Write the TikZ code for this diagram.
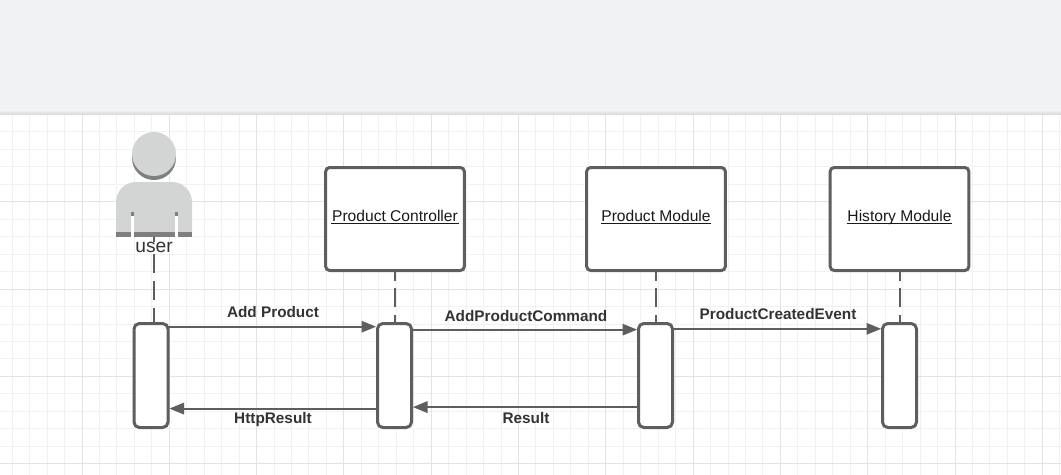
\documentclass[tikz,border=0pt]{standalone}
\usepackage{fontspec}
\setmainfont{Liberation Sans}
\usetikzlibrary{arrows.meta,positioning,calc}
\definecolor{linegray}{HTML}{5E5E5E}
\definecolor{textgray}{HTML}{333333}
\definecolor{bandgray}{HTML}{F1F2F4}
\definecolor{edgegray}{HTML}{D8D9DB}
\definecolor{gridminor}{HTML}{F1F1F1}
\definecolor{gridmajor}{HTML}{E3E3E3}
\definecolor{personfill}{HTML}{D3D5D5}
\definecolor{personshade}{HTML}{7F7F7F}
\newcommand{\ulabel}[1]{\setbox0\hbox{#1}\rlap{\kern-0.5pt\rule[-1.7pt]{\dimexpr\wd0+1pt\relax}{1pt}}\box0}
\tikzset{
    module/.style={draw=linegray, line width=2.25pt, fill=white, rounded corners=3pt, minimum width=104pt, minimum height=77.25pt, inner sep=0pt, outer sep=0pt, text height=8pt, text depth=4pt, font=\fontsize{11.7pt}{14pt}\selectfont, text=black!90},
    bar/.style={draw=linegray, line width=2.25pt, fill=white, rounded corners=4pt, minimum width=25.5pt, minimum height=78pt, inner sep=0pt, outer sep=0pt},
    lifeline/.style={draw=linegray, line width=1.5pt, dash pattern=on 14.6pt off 5.6pt, dash phase=7.1pt},
    message/.style={draw=linegray, line width=1.5pt, -{Triangle[length=11pt,width=8.5pt]}, shorten >=1pt},
    msglabel/.style={font=\fontsize{11.5pt}{14pt}\selectfont\bfseries, text=textgray, inner sep=0pt},
    gridline/.style={line width=0.9pt}
}
\begin{document}
\begin{tikzpicture}[x=0.75pt,y=-0.75pt]
    \useasboundingbox (0,0) rectangle (1061,475);

    % Grid
    \foreach \i in {0,...,61} {
        \pgfmathsetmacro\gridx{round(-5.8+17.46*\i)+0.5}
        \draw[gridline, gridminor] (\gridx,114) -- (\gridx,475);
    }
    \foreach \j in {0,...,20} {
        \pgfmathsetmacro\gridy{round(114+17.46*\j)+0.5}
        \draw[gridline, gridminor] (0,\gridy) -- (1061,\gridy);
    }
    \foreach \i in {0,...,12} {
        \pgfmathsetmacro\gridx{round(-5.8+87.3*\i)+0.5}
        \draw[gridline, gridmajor] (\gridx,114) -- (\gridx,475);
    }
    \foreach \j in {1,...,4} {
        \pgfmathsetmacro\gridy{round(114+87.3*\j)+0.5}
        \draw[gridline, gridmajor] (0,\gridy) -- (1061,\gridy);
    }

    % Top band
    \fill[bandgray] (0,0) rectangle (1061,110);
    \shade[top color=bandgray, bottom color=edgegray] (0,109.5) rectangle (1061,114.5);

    % Person
    \fill[personshade] (154,158) circle [radius=16.5pt];
    \fill[personfill] (154,154) circle [radius=16.5pt];
    \fill[personfill] (116,233) [rounded corners=15pt] -- (116,182) -- (192,182) [sharp corners] -- (192,233) -- cycle;
    \fill[personshade] (116,232) rectangle (192,236.5);
    \fill[white] (131.3,212) rectangle (133.7,236.5);
    \fill[white] (175,212) rectangle (177.5,236.5);
    \fill[personshade] (131.3,212) rectangle (133.7,216);
    \fill[personshade] (175,212) rectangle (177.5,216);

    % Modules
    \node[module] (controller) at (395,219) {\ulabel{Product Controller}};
    \node[module] (product) at (656,219) {\ulabel{Product Module}};
    \node[module] (history) at (899.5,219) {\ulabel{History Module}};

    % Activation bars
    \node[bar] (userbar) at (151,375.5) {};
    \node[bar] (controllerbar) at (394.5,375.5) {};
    \node[bar] (productbar) at (655.5,375.5) {};
    \node[bar] (historybar) at (899.5,375.5) {};

    % Lifelines
    \coordinate (userfoot) at (154,236.5);
    \draw[lifeline] (userfoot) -- (userfoot |- userbar.north);
    \draw[lifeline] (controller.south) -- (controller.south |- controllerbar.north);
    \draw[lifeline] (product.south) -- (product.south |- productbar.north);
    \draw[lifeline] (history.south) -- (historybar.north);
    \node[font=\fontsize{14.4pt}{16pt}\selectfont, text=textgray, fill=white, inner sep=0pt, below=4pt of userfoot] (userlabel) {user};

    % Messages
    \draw[message] ([yshift=-2.4pt]userbar.north east) -- ([yshift=-2.4pt]controllerbar.north west);
    \draw[message] ([yshift=-4.6pt]controllerbar.north east) -- ([yshift=-4.6pt]productbar.north west);
    \draw[message] ([yshift=-4pt]productbar.north east) -- ([yshift=-4pt]historybar.north west);
    \draw[message] ([yshift=14.2pt]controllerbar.south west) -- ([yshift=14.2pt]userbar.south east);
    \draw[message] ([yshift=15.3pt]productbar.south west) -- ([yshift=15.3pt]controllerbar.south east);

    % Message labels
    \node[msglabel] (addlabel) at (273,312) {Add Product};
    \node[msglabel] (commandlabel) at (526,316) {AddProductCommand};
    \node[msglabel] (eventlabel) at (778,314) {ProductCreatedEvent};
    \node[msglabel] (httplabel) at (273,420) {HttpResult};
    \node[msglabel] (resultlabel) at (526,418) {Result};
\end{tikzpicture}
\end{document}
